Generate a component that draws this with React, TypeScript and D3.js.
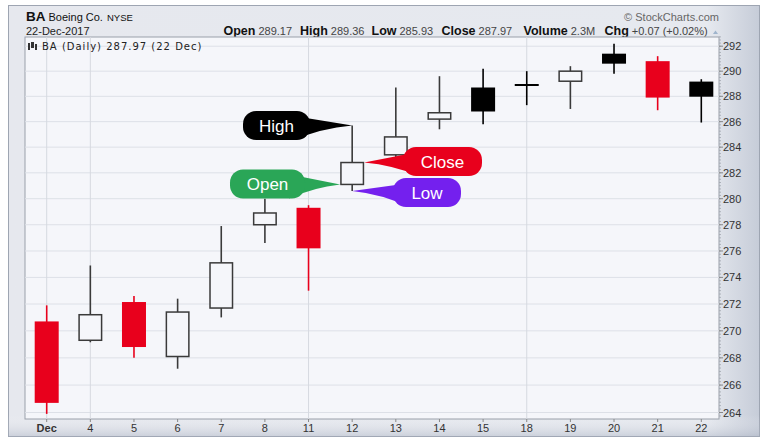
import React from "react";
import * as d3 from "d3";

// ---- data ----
const days = ["Dec", "4", "5", "6", "7", "8", "11", "12", "13", "14", "15", "18", "19", "20", "21", "22"];
const opens = [270.7, 269.3, 272.15, 268.1, 271.7, 278.0, 279.3, 281.1, 283.4, 286.2, 288.7, 288.9, 289.2, 291.4, 290.8, 289.17];
const highs = [271.9, 274.9, 272.6, 272.4, 277.9, 280.0, 279.5, 285.7, 288.7, 289.6, 290.2, 290.0, 290.4, 292.2, 291.2, 289.36];
const lows = [263.9, 269.15, 268.0, 267.2, 271.0, 276.6, 273.0, 280.6, 283.2, 285.4, 285.8, 287.3, 287.0, 289.8, 286.9, 285.93];
const closes = [264.7, 271.2, 268.8, 271.4, 275.1, 278.9, 276.2, 282.8, 284.8, 286.7, 286.8, 288.9, 290.0, 290.6, 287.9, 287.97];
const priorClose = 270.0; // close before first bar (only used for colouring)
const yTicks = [264, 266, 268, 270, 272, 274, 276, 278, 280, 282, 284, 286, 288, 290, 292];
const weekStarts = ["Dec", "4", "11", "18"];
const calloutDay = "12";
const quoteLabels = ["Open", "High", "Low", "Close", "Volume", "Chg"];
const quoteValues = ["289.17", "289.36", "285.93", "287.97", "2.3M", "+0.07 (+0.02%)"];

const RED = "#e8001c";
const HOLLOW = "#3a3a3a";

export default function App() {
  const W = 768, H = 445;
  const plot = { l: 25, r: 719, t: 37, b: 419 };
  const x = d3.scalePoint<string>().domain(days).range([46.7, 701.3]);
  const y = d3.scaleLog().domain([264, 292]).range([412.5, 46.2]);
  const bodyW = 24;

  const bars = days.map((d, i) => {
    const prev = i === 0 ? priorClose : closes[i - 1];
    const o = opens[i], c = closes[i];
    const color = c < prev ? RED : "#000";
    const hollow = c > o;
    return { d, o, c, h: highs[i], l: lows[i], color, hollow };
  });

  const minor: number[] = [];
  for (let v = 263.75; v <= 292.75; v += 0.25) minor.push(v);

  const ci = days.indexOf(calloutDay);
  const cx = x(calloutDay)!;
  const callouts = [
    { label: "High", fill: "#000", x: 243, y: 111, w: 67, h: 29, tx: cx, ty: y(highs[ci]), side: "right" },
    { label: "Open", fill: "#2aa657", x: 230, y: 169.5, w: 75, h: 29, tx: cx - bodyW / 2, ty: y(opens[ci]), side: "right" },
    { label: "Close", fill: RED, x: 403, y: 147, w: 79, h: 29, tx: cx + bodyW / 2, ty: y(closes[ci]), side: "left" },
    { label: "Low", fill: "#7420ee", x: 393, y: 178, w: 68, h: 29, tx: cx, ty: y(lows[ci]), side: "left" },
  ];

  const tailPath = (c: any) => {
    if (c.side === "right") {
      const bx = c.x + c.w;
      return `M${bx - 10},${c.y + 6} L${c.tx},${c.ty} Q${bx + (c.tx - bx) * 0.25},${c.ty + (c.y + c.h - c.ty) * 0.2} ${bx - 16},${c.y + c.h} Z`;
    }
    const bx = c.x;
    return `M${bx + 10},${c.y + 6} L${c.tx},${c.ty} Q${bx - (bx - c.tx) * 0.25},${c.ty + (c.y + c.h - c.ty) * 0.2} ${bx + 16},${c.y + c.h} Z`;
  };

  const font = "'Liberation Sans', Arial, Helvetica, sans-serif";
  const quoteX = [223.5, 300, 371.5, 441.5, 523.5, 604.5];

  return (
    <svg width={W} height={H} style={{ position: "absolute", left: 0, top: 0 }} fontFamily={font}>
      <defs>
        <linearGradient id="frameG" x1="0" y1="0" x2="1" y2="0">
          <stop offset="0" stopColor="#e6e8ee" />
          <stop offset="0.93" stopColor="#e6e9ef" />
          <stop offset="1" stopColor="#c6ccd8" />
        </linearGradient>
        <linearGradient id="frameB" x1="0" y1="0" x2="0" y2="1">
          <stop offset="0" stopColor="#ffffff" stopOpacity="0" />
          <stop offset="0.95" stopColor="#ffffff" stopOpacity="0" />
          <stop offset="1" stopColor="#aab2c2" stopOpacity="0.45" />
        </linearGradient>
      </defs>
      <rect x={0} y={0} width={W} height={H} fill="#fff" />
      <rect x={8.5} y={5.5} width={751} height={431} fill="url(#frameG)" stroke="#9ea5b2" />
      <rect x={8.5} y={5.5} width={751} height={431} fill="url(#frameB)" />

      {/* header */}
      <text x={26} y={21} fontSize={13} fill="#111">
        <tspan fontWeight="bold" fontSize={13.5}>BA</tspan>
        <tspan dx={3} fontSize={11}>Boeing Co.</tspan>
        <tspan dx={4} fontSize={9.5}>NYSE</tspan>
      </text>
      <text x={26} y={34.5} fontSize={11} fill="#222">22-Dec-2017</text>
      {quoteLabels.map((lab, i) => (
        <text key={lab} x={quoteX[i]} y={34.5} fill="#444" fontSize={11}>
          <tspan fontWeight="bold" fontSize={12.5} fill="#111">{lab}</tspan>
          <tspan dx={3}>{quoteValues[i]}</tspan>
        </text>
      ))}
      <path d="M713,34 L715.5,30.5 L718,34 Z" fill="#9fb4cc" />
      <text x={719} y={21} fontSize={11} fill="#666" textAnchor="end">© StockCharts.com</text>

      {/* plot area */}
      <rect x={plot.l} y={plot.t} width={plot.r - plot.l} height={plot.b - plot.t} fill="#f5f6fa" stroke="#9aa0aa" />
      {yTicks.map((v) => (
        <line key={"g" + v} x1={plot.l} x2={plot.r} y1={y(v)} y2={y(v)} stroke="#dde0e7" />
      ))}
      {weekStarts.map((d) => (
        <line key={"v" + d} x1={x(d)} x2={x(d)} y1={plot.t} y2={plot.b} stroke="#d6d9e0" />
      ))}

      {/* legend line in plot */}
      <g fill="#333">
        <rect x={28} y={43} width={2} height={7} />
        <rect x={31} y={42} width={3} height={6} />
        <rect x={35} y={44} width={2} height={6} />
      </g>
      <text x={42} y={50} fontSize={10} letterSpacing={1} fontFamily="'DejaVu Sans', Verdana, sans-serif" fill="#222">
        BA (Daily) 287.97 (22 Dec)
      </text>

      {/* candles */}
      {bars.map((b) => {
        const cxx = x(b.d)!;
        const top = y(Math.max(b.o, b.c));
        const bot = y(Math.min(b.o, b.c));
        const stroke = b.hollow ? HOLLOW : b.color;
        return (
          <g key={b.d}>
            <line x1={cxx} x2={cxx} y1={y(b.h)} y2={y(b.l)} stroke={stroke} strokeWidth={1.6} />
            {b.hollow ? (
              <rect x={cxx - bodyW / 2 + 0.75} y={top} width={bodyW - 1.5} height={Math.max(1, bot - top)} fill="#f5f6fa" stroke={HOLLOW} strokeWidth={1.5} />
            ) : bot - top < 1.5 ? (
              <line x1={cxx - bodyW / 2} x2={cxx + bodyW / 2} y1={top} y2={top} stroke={b.color} strokeWidth={2} />
            ) : (
              <rect x={cxx - bodyW / 2} y={top} width={bodyW} height={bot - top} fill={b.color} />
            )}
          </g>
        );
      })}

      {/* callouts */}
      {callouts.map((c) => (
        <g key={c.label}>
          <path d={tailPath(c)} fill={c.fill} />
          <rect x={c.x} y={c.y} width={c.w} height={c.h} rx={13} fill={c.fill} />
          <text x={c.x + c.w / 2} y={c.y + c.h / 2 + 6} fontSize={17} fill="#fff" textAnchor="middle">
            {c.label}
          </text>
        </g>
      ))}

      {/* right axis */}
      {minor.map((v) => (
        <line key={"m" + v} x1={plot.r} x2={plot.r + 2} y1={y(v)} y2={y(v)} stroke="#a0a4ad" strokeWidth={0.8} />
      ))}
      {yTicks.map((v) => (
        <g key={"t" + v}>
          <line x1={plot.r} x2={plot.r + 4} y1={y(v)} y2={y(v)} stroke="#888" />
          <text x={723} y={y(v) + 4} fontSize={11} fill="#333">{v}</text>
        </g>
      ))}

      {/* bottom axis */}
      {days.map((d) => (
        <g key={"x" + d}>
          <line x1={x(d)} x2={x(d)} y1={plot.b} y2={plot.b + 3} stroke="#888" />
          <text x={x(d)} y={432} fontSize={11} fill="#333" textAnchor="middle" fontWeight={d === "Dec" ? "bold" : "normal"}>
            {d}
          </text>
        </g>
      ))}
    </svg>
  );
}
